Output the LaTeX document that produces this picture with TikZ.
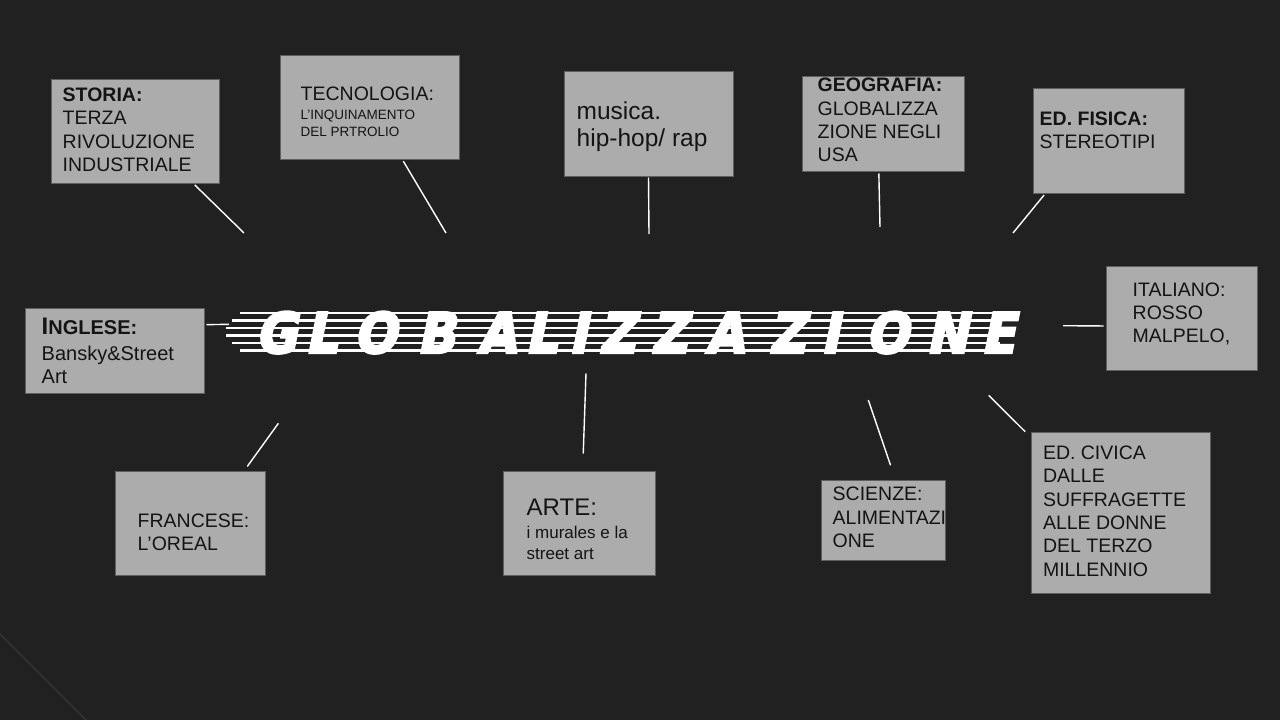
\documentclass[tikz,border=0pt]{standalone}
\usepackage{fontspec}
\setmainfont{Liberation Sans}
\newfontfamily\titlefont[UprightFont=* Bold, FakeStretch=0.9, FakeSlant=0.2, FakeBold=4]{DejaVu Sans}
\usetikzlibrary{positioning}
\definecolor{slidebg}{RGB}{33,33,33}
\definecolor{boxfill}{RGB}{172,172,172}
\definecolor{boxline}{RGB}{95,95,95}
\definecolor{boxtext}{RGB}{20,20,20}
\definecolor{faint}{RGB}{60,60,60}
\newcommand{\fs}[2]{\fontsize{#1}{#2}\selectfont}

\begin{document}
\begin{tikzpicture}[x=1pt, y=-1pt,
  box/.style={draw=boxline, line width=1pt, fill=boxfill, inner sep=0pt},
  txt/.style={anchor=north west, align=left, inner sep=0pt, text=boxtext, font=\fs{19.5}{23.4}},
  link/.style={draw=white, line width=1.4pt},
  speed/.style={white, line width=2.3pt},
  letter/.style={text=white, inner sep=0pt, anchor=base, font=\titlefont\fs{56}{56}}]

  % Slide background
  \fill[slidebg] (0,0) rectangle (1280,720);
  \useasboundingbox (0,0) rectangle (1280,720);
  \draw[faint, line width=1pt] (0,634) -- (86,720);

  % Title with speed lines
  \foreach \sy/\sx in {313/240, 320.5/232, 328/226, 335.5/226, 343/232, 350.5/240}
    \draw[speed] (\sx,\sy) -- (1000,\sy);
  \foreach \ch/\cx [count=\i] in {G/276, L/321, O/375, B/436, A/497, L/541, I/578, Z/617, Z/669, A/725, Z/787, I/830, O/887, N/947, E/998}
    \node[letter] (t\i) at (\cx,353) {\ch};

  % Subject boxes
  \node[box, minimum width=168, minimum height=104] (storia) at (135,131) {};
  \node[txt] (storia-t) at ([shift={(12,9)}]storia.north west) {\textbf{STORIA:}\\TERZA\\RIVOLUZIONE\\INDUSTRIALE};

  \node[box, minimum width=179, minimum height=104] (tecno) at (369.5,107) {};
  \node[txt, font=\fs{13.5}{17.3}] (tecno-t) at ([shift={(21,31.7)}]tecno.north west) {{\fs{19.5}{23.4}TECNOLOGIA:}\\[2pt]L’INQUINAMENTO\\DEL PRTROLIO};

  \node[box, minimum width=169, minimum height=105] (musica) at (648.5,123.5) {};
  \node[txt, font=\fs{24.5}{26.5}] (musica-t) at ([shift={(13,31.5)}]musica.north west) {musica.\\hip-hop/ rap};

  \node[box, minimum width=162, minimum height=95] (geo) at (883,123.5) {};
  \node[txt] (geo-t) at ([shift={(16,2.3)}]geo.north west) {\textbf{GEOGRAFIA:}\\GLOBALIZZA\\ZIONE NEGLI\\USA};

  \node[box, minimum width=151, minimum height=105] (fisica) at (1108.5,140.5) {};
  \node[txt] (fisica-t) at ([shift={(7,23.7)}]fisica.north west) {\textbf{ED. FISICA:}\\STEREOTIPI};

  \node[box, minimum width=151, minimum height=104] (italiano) at (1181.5,318) {};
  \node[txt] (italiano-t) at ([shift={(27,16.7)}]italiano.north west) {ITALIANO:\\ROSSO\\MALPELO,};

  \node[box, minimum width=179, minimum height=85] (inglese) at (114.5,350.5) {};
  \node[txt, font=\fs{20}{23.3}] (inglese-t) at ([shift={(17,10.3)}]inglese.north west) {{\fs{24}{24}\bfseries I}{\bfseries NGLESE:}\\[2.7pt]Bansky\&Street\\Art};

  \node[box, minimum width=150, minimum height=104] (francese) at (190,523) {};
  \node[txt] (francese-t) at ([shift={(23,43)}]francese.north west) {FRANCESE:\\L’OREAL};

  \node[box, minimum width=152, minimum height=104] (arte) at (579,523) {};
  \node[txt, font=\fs{17}{21.2}] (arte-t) at ([shift={(24,28.3)}]arte.north west) {{\fs{24}{24}ARTE:}\\[1.4pt]i murales e la\\street art};

  \node[box, minimum width=124, minimum height=80] (scienze) at (883,520) {};
  \node[txt] (scienze-t) at ([shift={(12,7.3)}]scienze.north west) {SCIENZE:\\ALIMENTAZI\\ONE};

  \node[box, minimum width=179, minimum height=161] (civica) at (1120.5,512.5) {};
  \node[txt] (civica-t) at ([shift={(12.3,14)}]civica.north west) {ED. CIVICA\\DALLE\\SUFFRAGETTE\\ALLE DONNE\\DEL TERZO\\MILLENNIO};

  % Free ends of the links, next to the title
  \coordinate (storia-end) at (244,233);
  \coordinate (tecno-end) at (446,233);
  \coordinate (musica-end) at (649,234);
  \coordinate (geo-end) at (880,227);
  \coordinate (fisica-end) at (1013,233);
  \coordinate (italiano-end) at (1063,325.7);
  \coordinate (inglese-end) at (229,324.3);
  \coordinate (francese-end) at (278.4,423.3);
  \coordinate (arte-end) at (586,373.3);
  \coordinate (scienze-end) at (868.3,400);
  \coordinate (civica-end) at (988.7,395.3);

  % Links
  \draw[link, shorten <=2pt] (storia.-42) -- (storia-end);
  \draw[link, shorten <=2pt] (tecno.-58) -- (tecno-end);
  \draw[link, shorten <=1pt] (musica.south) -- (musica-end);
  \draw[link, shorten <=2pt] (geo.-95) -- (geo-end);
  \draw[link, shorten <=2pt] (fisica.220) -- (fisica-end);
  \draw[link, shorten <=2pt] (italiano.186) -- (italiano-end);
  \draw[link, shorten <=2pt] (inglese.16) -- (inglese-end);
  \draw[link, shorten <=5pt] (francese.44) -- (francese-end);
  \draw[link, shorten <=17pt] (arte.86) -- (arte-end);
  \draw[link, shorten <=15pt] (scienze.73) -- (scienze-end);
  \draw[link, shorten <=7.5pt] (civica.140) -- (civica-end);
\end{tikzpicture}
\end{document}
